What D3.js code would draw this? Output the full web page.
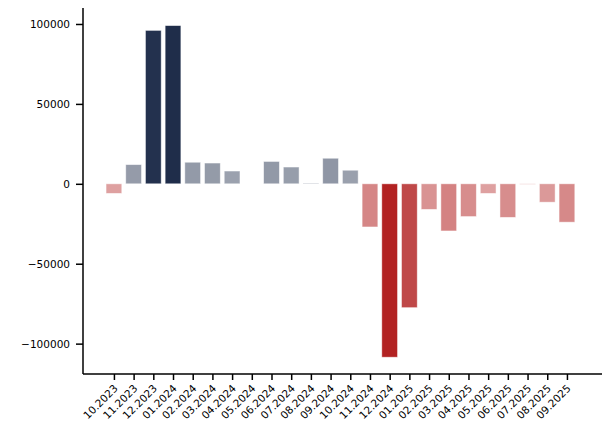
<!DOCTYPE html>
<html>
<head>
<meta charset="utf-8">
<script src="https://cdn.jsdelivr.net/npm/d3@7"></script>
<style>
  body { margin: 0; background: #fff; }
  svg { display: block; }
</style>
</head>
<body>
<script>
const months = [
  "10.2023", "11.2023", "12.2023", "01.2024", "02.2024", "03.2024",
  "04.2024", "05.2024", "06.2024", "07.2024", "08.2024", "09.2024",
  "10.2024", "11.2024", "12.2024", "01.2025", "02.2025", "03.2025",
  "04.2025", "05.2025", "06.2025", "07.2025", "08.2025", "09.2025"
];
const values = [
  -6000, 12000, 96000, 99000, 13500, 13000,
  8000, 0, 14000, 10500, 500, 16000,
  8500, -27000, -108500, -77500, -16000, -29500,
  -20500, -6000, -21000, -300, -11500, -24000
];
const yTicks = [-100000, -50000, 0, 50000, 100000];

const width = 606;
const height = 435;
const margin = { top: 8, right: 4, bottom: 61, left: 83 };

const svg = d3.select("body")
  .append("svg")
  .attr("width", width)
  .attr("height", height);

const x = d3.scaleLinear()
  .domain([-1.57, 24.78])
  .range([margin.left, width - margin.right]);

const y = d3.scaleLinear()
  .domain([-119000, 110000])
  .range([height - margin.bottom, margin.top]);

const maxPos = d3.max(values);
const maxNeg = -d3.min(values);
const barWidth = 0.8 * (x(1) - x(0));

svg.append("g")
  .selectAll("rect")
  .data(values)
  .join("rect")
  .attr("x", (d, i) => x(i) - barWidth / 2)
  .attr("y", d => y(Math.max(0, d)))
  .attr("width", barWidth)
  .attr("height", d => Math.abs(y(d) - y(0)))
  .attr("fill", d => d >= 0 ? "#1f2d4a" : "#b22222")
  .attr("fill-opacity", d => 0.4 + 0.6 * Math.abs(d) / (d >= 0 ? maxPos : maxNeg))
  .attr("stroke", "#fff")
  .attr("stroke-opacity", 0.6)
  .attr("stroke-width", 0.8);

const yAxis = svg.append("g")
  .attr("transform", `translate(${margin.left},0)`)
  .call(d3.axisLeft(y)
    .tickValues(yTicks)
    .tickSize(7)
    .tickPadding(6)
    .tickFormat(d => String(d).replace("-", "\u2212")));

const xAxis = svg.append("g")
  .attr("transform", `translate(0,${height - margin.bottom})`)
  .call(d3.axisBottom(x)
    .tickValues(d3.range(months.length))
    .tickSize(6)
    .tickFormat(i => months[i]));

[yAxis, xAxis].forEach(g => {
  g.attr("font-family", "DejaVu Sans").attr("font-size", 10.5);
  g.select(".domain").attr("stroke", "#000").attr("stroke-width", 1.5);
  g.selectAll(".tick line").attr("stroke", "#000").attr("stroke-width", 1.5);
  g.selectAll("text").attr("fill", "#000");
});

yAxis.select(".domain").attr("d", `M0,${margin.top}V${height - margin.bottom}`);
xAxis.select(".domain").attr("d", `M${margin.left},0H${width - margin.right}`);

xAxis.selectAll(".tick text")
  .attr("text-anchor", "end")
  .attr("dy", null)
  .attr("y", 0)
  .attr("transform", "translate(4,15) rotate(-45)");
</script>
</body>
</html>
